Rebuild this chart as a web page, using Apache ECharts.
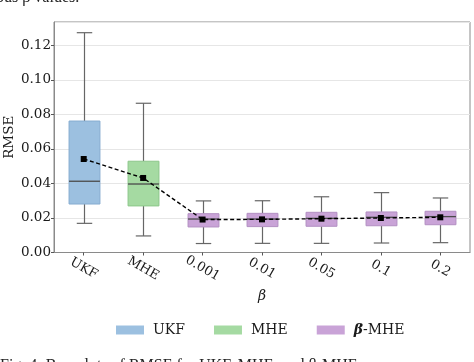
<!DOCTYPE html>
<html>
<head>
<meta charset="utf-8">
<script src="https://cdn.jsdelivr.net/npm/echarts@6/dist/echarts.min.js"></script>
<style>html,body{margin:0;padding:0;background:#fff}#c{width:474px;height:362px}</style>
</head>
<body>
<div id="c"></div>
<script>
const categories = ['UKF', 'MHE', '0.001', '0.01', '0.05', '0.1', '0.2'];
const groupOf = ['UKF', 'MHE', 'β-MHE', 'β-MHE', 'β-MHE', 'β-MHE', 'β-MHE'];
const whiskerLow = [0.0169, 0.0096, 0.0052, 0.0053, 0.0053, 0.0055, 0.0057];
const q1 = [0.0281, 0.0270, 0.0148, 0.0150, 0.0152, 0.0155, 0.0161];
const median = [0.0413, 0.0397, 0.0194, 0.0194, 0.0198, 0.0204, 0.0208];
const q3 = [0.0762, 0.0529, 0.0225, 0.0227, 0.0233, 0.0235, 0.0239];
const whiskerHigh = [0.1274, 0.0865, 0.0299, 0.0300, 0.0323, 0.0347, 0.0316];
const means = [0.0542, 0.0432, 0.0191, 0.0192, 0.0196, 0.0200, 0.0204];
const yTicks = [0, 0.02, 0.04, 0.06, 0.08, 0.10, 0.12];
const groups = ['UKF', 'MHE', 'β-MHE'];
const fills = {'UKF': '#9cc0e0', 'MHE': '#a5daa2', 'β-MHE': '#c9a3d7'};
const edges = {'UKF': '#86acd0', 'MHE': '#8cc78a', 'β-MHE': '#b28fc2'};

const FONT = 'DejaVu Serif';

function makeRender(g) {
  return function (params, api) {
    const x = api.value(0);
    const lo = api.coord([x, api.value(1)]);
    const b1 = api.coord([x, api.value(2)]);
    const md = api.coord([x, api.value(3)]);
    const b3 = api.coord([x, api.value(4)]);
    const hi = api.coord([x, api.value(5)]);
    const w = api.size([1, 0])[0] * 0.52;
    const cw = w / 2;
    const cx = Math.round(lo[0]) + 0.5;
    const ws = {stroke: '#666', lineWidth: 1.2};
    return {
      type: 'group',
      children: [
        {type: 'line', shape: {x1: cx, y1: lo[1], x2: cx, y2: b1[1]}, style: ws},
        {type: 'line', shape: {x1: cx, y1: b3[1], x2: cx, y2: hi[1]}, style: ws},
        {type: 'line', shape: {x1: cx - cw / 2, y1: lo[1], x2: cx + cw / 2, y2: lo[1]}, style: ws},
        {type: 'line', shape: {x1: cx - cw / 2, y1: hi[1], x2: cx + cw / 2, y2: hi[1]}, style: ws},
        {type: 'rect', shape: {x: cx - w / 2, y: b3[1], width: w, height: b1[1] - b3[1]},
          style: {fill: fills[g], stroke: edges[g], lineWidth: 1}},
        {type: 'line', shape: {x1: cx - w / 2, y1: md[1], x2: cx + w / 2, y2: md[1]},
          style: {stroke: '#4a4a4a', lineWidth: 1.3}}
      ]
    };
  };
}

const boxSeries = groups.map(g => ({
  name: g,
  type: 'custom',
  renderItem: makeRender(g),
  itemStyle: {color: fills[g]},
  encode: {x: 0, y: [1, 2, 3, 4, 5]},
  z: 2,
  data: categories.map((c, i) => i).filter(i => groupOf[i] === g)
    .map(i => [i, whiskerLow[i], q1[i], median[i], q3[i], whiskerHigh[i]])
}));

const chart = echarts.init(document.getElementById('c'));
chart.setOption({
  animation: false,
  backgroundColor: '#fff',
  grid: {left: 54, right: 4, top: 22, bottom: 109.5, show: true, borderColor: '#8a8a8a', borderWidth: 1,
    containLabel: false, outerBoundsMode: 'none'},
  xAxis: {
    type: 'category',
    data: categories,
    boundaryGap: true,
    name: 'β',
    nameLocation: 'middle',
    nameGap: 37,
    nameMoveOverlap: false,
    nameTextStyle: {fontFamily: FONT, fontSize: 14, fontStyle: 'italic', color: '#1a1a1a'},
    axisLine: {show: true, lineStyle: {color: '#8a8a8a'}},
    axisTick: {show: true, alignWithLabel: true, length: 3, lineStyle: {color: '#555'}},
    axisLabel: {rotate: -30, align: 'center', verticalAlign: 'middle', margin: 16,
      fontFamily: FONT, fontSize: 13, color: '#1a1a1a', interval: 0},
    splitLine: {show: false}
  },
  yAxis: {
    type: 'value',
    min: 0,
    max: 0.1336,
    interval: 0.02,
    name: 'RMSE',
    nameLocation: 'middle',
    nameGap: 38,
    nameMoveOverlap: false,
    nameTextStyle: {fontFamily: FONT, fontSize: 13.5, color: '#1a1a1a'},
    axisLine: {show: true, lineStyle: {color: '#8a8a8a'}},
    axisTick: {show: true, length: 3, lineStyle: {color: '#555'}},
    axisLabel: {showMaxLabel: false, margin: 3, fontFamily: FONT, fontSize: 13.5, color: '#1a1a1a',
      formatter: v => (yTicks.some(t => Math.abs(t - v) < 1e-9) ? v.toFixed(2) : '')},
    splitLine: {show: true, lineStyle: {color: '#e6e6e6', width: 1}}
  },
  legend: {
    data: groups,
    icon: 'rect',
    itemWidth: 28,
    itemHeight: 9,
    itemGap: 29,
    left: 111,
    top: 318,
    formatter: n => n === 'β-MHE' ? '{b|β}-MHE' : n,
    textStyle: {fontFamily: FONT, fontSize: 14, color: '#1a1a1a', padding: [0, 0, 0, 4],
      rich: {b: {fontFamily: FONT, fontSize: 14, fontStyle: 'italic', fontWeight: 'bold', color: '#1a1a1a'}}}
  },
  graphic: [
    {type: 'text', left: -4, top: -10, style: {text: 'ous β values.', font: '16px "Liberation Serif"', fill: '#222'}},
    {type: 'text', left: 0, top: 358, style: {text: 'Fig. 4: Box plots of RMSE for UKF, MHE, and β-MHE', font: '16px "Liberation Serif"', fill: '#222'}}
  ],
  series: boxSeries.concat([{
    name: 'mean',
    type: 'line',
    data: means,
    symbol: 'rect',
    symbolSize: 6,
    z: 5,
    itemStyle: {color: '#000'},
    lineStyle: {color: '#000', width: 1.4, type: [4, 2.5]}
  }])
});
</script>
</body>
</html>
